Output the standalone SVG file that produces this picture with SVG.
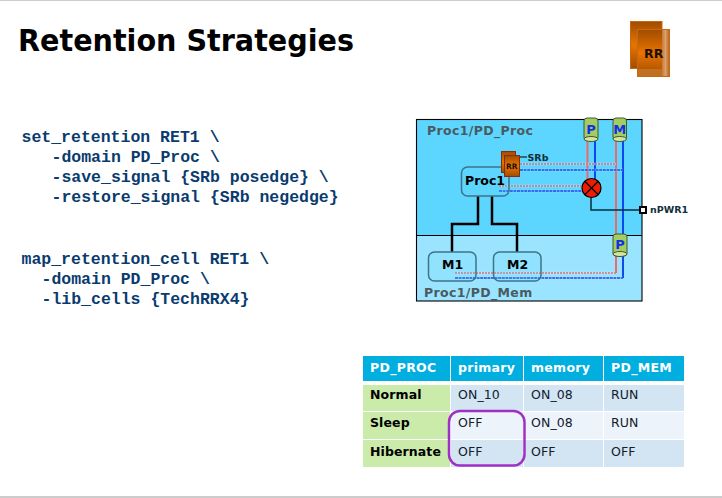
<svg xmlns="http://www.w3.org/2000/svg" width="722" height="498" viewBox="0 0 722 498">
<style>
text{font-family:"DejaVu Sans","Liberation Sans",sans-serif}
.code{font-family:"Liberation Mono",monospace;font-weight:bold;font-size:16.5px;fill:#0a3b6e;white-space:pre}
.th{font-size:12.5px;font-weight:bold;fill:#fff;letter-spacing:.3px}
.rh{font-size:12.5px;font-weight:bold;fill:#000;letter-spacing:.1px}
.td{font-size:12.5px;fill:#10202c;letter-spacing:.1px}
.lbl{font-size:12.5px;font-weight:bold;fill:#4a5a60;letter-spacing:.35px}
.blk{font-size:12.5px;font-weight:bold;fill:#000}
.tiny{font-size:9.5px;font-weight:bold;fill:#10303c}
.mod{fill-opacity:.15;fill:#5cd6ff;stroke:#3c7488;stroke-width:1.5}
.wire{fill:none;stroke:#000;stroke-width:2.5}
.r{fill:none;stroke:#f06868;stroke-width:2}
.b{fill:none;stroke:#1048f0;stroke-width:2}
.gl{fill:none;stroke:#c8e8ff;stroke-width:2.5;stroke-opacity:.55}
.rd{fill:none;stroke:#f03030;stroke-width:1.2;stroke-dasharray:2 1}
.bd{fill:none;stroke:#1048f0;stroke-width:1.3;stroke-dasharray:3 .6}
.cyl{fill:#a4cc60;stroke:#3c5a30;stroke-width:1}
.cap{fill:#d4e4a0;stroke:#3c5a30;stroke-width:1}
.cl{font-size:13px;font-weight:bold;fill:#1030e8;text-anchor:middle}
.ph{fill:#00aee0}.g{fill:#cbebab}.d{fill:#d3e4f2}.l{fill:#edf3fa}
</style>
<defs>
<linearGradient id="og" x1="0" y1="0" x2="0" y2="1">
<stop offset="0" stop-color="#a04c00"/><stop offset=".5" stop-color="#e87400"/><stop offset="1" stop-color="#a04c00"/>
</linearGradient>
<linearGradient id="st" x1="0" y1="0" x2="1" y2="0">
<stop offset="0" stop-color="#c87a30"/><stop offset=".5" stop-color="#dca070"/><stop offset="1" stop-color="#b86a20"/>
</linearGradient>
</defs>
<rect width="722" height="498" fill="#fff"/>
<rect width="722" height="1" fill="#cccccc"/>
<rect y="496" width="722" height="2" fill="#cccccc"/>
<text id="title" x="18" y="51" font-size="30" font-weight="bold" fill="#000" textLength="336" lengthAdjust="spacingAndGlyphs">Retention Strategies</text>
<g id="logo">
<rect x="630.500" y="21.500" width="31.500" height="47" fill="url(#og)" stroke="#c46a10"/>
<rect x="637.500" y="29.500" width="32" height="47" fill="url(#og)" stroke="#c46a10"/>
<rect x="662" y="30" width="7" height="46" fill="url(#st)"/>
<rect x="638" y="69" width="24" height="7" fill="#c07020"/>
<text x="644" y="58" font-size="12.500" font-weight="bold" fill="#201000">RR</text>
</g>
<g id="code1">
<text class="code" x="21.500" y="142">set_retention RET1 \</text>
<text class="code" x="51.500" y="162">-domain PD_Proc \</text>
<text class="code" x="51.500" y="182">-save_signal {SRb posedge} \</text>
<text class="code" x="51.500" y="202">-restore_signal {SRb negedge}</text>
</g>
<g id="code2">
<text class="code" x="21.500" y="264">map_retention_cell RET1 \</text>
<text class="code" x="41.500" y="284">-domain PD_Proc \</text>
<text class="code" x="41.500" y="304">-lib_cells {TechRRX4}</text>
</g>
<g id="domain-proc">
<rect x="417" y="120" width="225" height="115" fill="#5cd6ff"/>
<text class="lbl" x="427" y="135">Proc1/PD_Proc</text>
</g>
<g id="domain-mem">
<rect x="417" y="235" width="225" height="66" fill="#9be4ff"/>
<text class="lbl" x="424" y="297">Proc1/PD_Mem</text>
</g>
<rect x="416.500" y="119.500" width="225.500" height="181.500" fill="none" stroke="#000" stroke-width="1.100"/>
<line x1="417" y1="235.500" x2="642" y2="235.500" stroke="#000" stroke-width="1"/>
<g id="connectors">
<path class="wire" d="M478 196V224H452V252"/>
<path class="wire" d="M492 196V224H517V252"/>
<path class="r" d="M587.500 140V180M616 140V273"/>
<path class="b" d="M595 140V180M623 140V278"/>
<path class="gl" d="M520 164H616M499 186H582M455 273H616M520 170H623M499 191H582M455 278H623"/>
<path class="rd" d="M520 164H616M499 186H582M455 273H616"/>
<path class="bd" d="M520 170H623M499 191H582M455 278H623"/>
<path d="M591 198V210H642" fill="none" stroke="#0c2c38" stroke-width="1.500"/>
</g>
<g id="proc1"><rect class="mod" x="461.500" y="167" width="47.500" height="29" rx="6"/><text class="blk" x="465" y="185">Proc1</text></g>
<g id="m1"><rect class="mod" x="428.500" y="252" width="47.500" height="29" rx="6"/><text class="blk" x="442" y="269">M1</text></g>
<g id="m2"><rect class="mod" x="493.500" y="252" width="47.500" height="29" rx="6"/><text class="blk" x="507" y="269">M2</text></g>
<g id="srb">
<rect x="501.500" y="151.500" width="14" height="21" fill="url(#og)" stroke="#8a2a10"/>
<rect x="504.500" y="155.500" width="15" height="21" fill="url(#og)" stroke="#8a2a10"/>
<text x="506" y="169" font-size="7.500" font-weight="bold" fill="#201000">RR</text>
<line x1="520" y1="157" x2="527" y2="157" stroke="#000"/>
<text class="tiny" x="527.500" y="161">SRb</text>
</g>
<g id="switch">
<circle cx="591.500" cy="188" r="9.500" fill="#f01c00" stroke="#000" stroke-width="1.200"/>
<path d="M585 181.500L598 194.500M598 181.500L585 194.500" stroke="#000" stroke-width="1.300"/>
</g>
<g id="port-p1"><rect class="cyl" x="584" y="118" width="14" height="22" rx="3"/><ellipse class="cap" cx="591" cy="139" rx="7" ry="2.500"/><text class="cl" x="591" y="134">P</text></g>
<g id="port-m"><rect class="cyl" x="613" y="118" width="13.500" height="22" rx="3"/><ellipse class="cap" cx="619.700" cy="139" rx="6.800" ry="2.500"/><text class="cl" x="619.700" y="134">M</text></g>
<g id="port-p2"><rect class="cyl" x="613" y="234" width="14" height="22" rx="3"/><ellipse class="cap" cx="620" cy="254" rx="7" ry="2.500"/><text class="cl" x="620" y="249">P</text></g>
<g id="npwr1">
<rect x="640" y="207" width="6" height="6" fill="#fff" stroke="#000" stroke-width="2"/>
<text class="tiny" x="650" y="213">nPWR1</text>
</g>
<g id="table">
<rect class="ph" x="363" y="356" width="87" height="25"/><rect class="ph" x="451" y="356" width="72" height="25"/><rect class="ph" x="524" y="356" width="79" height="25"/><rect class="ph" x="604" y="356" width="80" height="25"/>
<rect class="g" x="363" y="385" width="87" height="26"/><rect class="d" x="451" y="385" width="72" height="26"/><rect class="d" x="524" y="385" width="79" height="26"/><rect class="d" x="604" y="385" width="80" height="26"/>
<rect class="g" x="363" y="412" width="87" height="27"/><rect class="l" x="451" y="412" width="72" height="27"/><rect class="l" x="524" y="412" width="79" height="27"/><rect class="l" x="604" y="412" width="80" height="27"/>
<rect class="g" x="363" y="440" width="87" height="27"/><rect class="d" x="451" y="440" width="72" height="27"/><rect class="d" x="524" y="440" width="79" height="27"/><rect class="d" x="604" y="440" width="80" height="27"/>
<text class="th" x="370" y="372">PD_PROC</text><text class="th" x="458" y="372">primary</text><text class="th" x="531" y="372">memory</text><text class="th" x="611" y="372">PD_MEM</text>
<text class="rh" x="370" y="399">Normal</text><text class="td" x="458" y="399">ON_10</text><text class="td" x="531" y="399">ON_08</text><text class="td" x="611" y="399">RUN</text>
<text class="rh" x="370" y="427">Sleep</text><text class="td" x="458" y="427">OFF</text><text class="td" x="531" y="427">ON_08</text><text class="td" x="611" y="427">RUN</text>
<text class="rh" x="370" y="456">Hibernate</text><text class="td" x="458" y="456">OFF</text><text class="td" x="531" y="456">OFF</text><text class="td" x="611" y="456">OFF</text>
</g>
<rect id="highlight" x="449" y="411" width="75.500" height="54.500" rx="11" fill="none" stroke="#a030c4" stroke-width="2.500"/>
</svg>
